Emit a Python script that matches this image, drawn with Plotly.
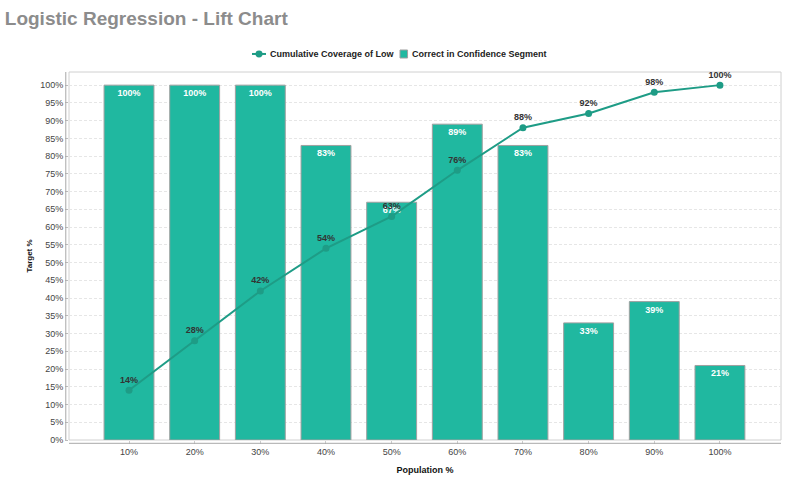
import plotly.graph_objects as go

categories = ["10%", "20%", "30%", "40%", "50%", "60%", "70%", "80%", "90%", "100%"]
correct_in_segment = [100, 100, 100, 83, 67, 89, 83, 33, 39, 21]
cumulative_coverage = [14, 28, 42, 54, 63, 76, 88, 92, 98, 100]
y_ticks = list(range(0, 101, 5))
y_tick_labels = [f"{v}%" for v in y_ticks]
series_names = ["Cumulative Coverage of Low", "Correct in Confidence Segment"]

bar_color = "#20B8A0"
line_color = "#1E9C86"
font_family = "Liberation Sans, Arial, sans-serif"

fig = go.Figure()

fig.add_trace(go.Bar(
    x=categories, y=correct_in_segment,
    name=series_names[1],
    marker=dict(color=bar_color, line=dict(color="#A0A0A0", width=1)),
    width=0.76,
    text=[f"{v}%" for v in correct_in_segment],
    textposition="inside",
    insidetextanchor="end",
    textangle=0,
    textfont=dict(family=font_family, size=9, color="white", weight="bold"),
    showlegend=False,
))

fig.add_trace(go.Scatter(
    x=categories, y=cumulative_coverage,
    name=series_names[0],
    mode="lines+markers+text",
    line=dict(color=line_color, width=2),
    marker=dict(color=line_color, size=7),
    text=[f"{v}%" for v in cumulative_coverage],
    textposition="top center",
    textfont=dict(family=font_family, size=9, color="#333333", weight="bold"),
    cliponaxis=False,
    showlegend=False,
))

# custom compact legend (paper coordinates)
leg_y = 1.049
legend_font = dict(family=font_family, size=9, color="#222222", weight="bold")
annotations = [
    dict(text=series_names[0], xref="paper", yref="paper", x=0.2795, y=leg_y,
         xanchor="left", yanchor="middle", showarrow=False, font=legend_font),
    dict(text=series_names[1], xref="paper", yref="paper", x=0.4795, y=leg_y,
         xanchor="left", yanchor="middle", showarrow=False, font=legend_font),
]
shapes = [
    dict(type="rect", xref="paper", yref="paper", x0=0, x1=1, y0=0, y1=1,
         line=dict(color="#D0D0D0", width=1), layer="below"),
    dict(type="line", xref="paper", yref="paper", x0=-0.0045, x1=-0.0045, y0=0, y1=1,
         line=dict(color="#A8A8A8", width=1)),
    dict(type="line", xref="paper", yref="paper", x0=0, x1=1, y0=-0.009, y1=-0.009,
         line=dict(color="#A8A8A8", width=1)),
    # legend symbols
    dict(type="line", xref="paper", yref="paper", x0=0.257, x1=0.2767, y0=leg_y, y1=leg_y,
         line=dict(color=line_color, width=2)),
    dict(type="circle", xref="paper", yref="paper",
         x0=0.2669 - 0.0049, x1=0.2669 + 0.0049, y0=leg_y - 0.0095, y1=leg_y + 0.0095,
         fillcolor=line_color, line=dict(color=line_color, width=0)),
    dict(type="rect", xref="paper", yref="paper", x0=0.4649, x1=0.4755, y0=1.038, y1=1.0598,
         fillcolor=bar_color, line=dict(color="#A0A0A0", width=1)),
]

fig.update_layout(
    width=800, height=488,
    margin=dict(l=69, r=19, t=72, b=48),
    paper_bgcolor="white",
    plot_bgcolor="white",
    font=dict(family=font_family, size=9, color="#444444"),
    title=dict(
        text="Logistic Regression - Lift Chart",
        x=0.006, xanchor="left", y=0.963, yanchor="middle",
        font=dict(family=font_family, size=19, color="#8C8C8C", weight="bold"),
    ),
    showlegend=False,
    uniformtext=dict(minsize=9, mode="show"),
    xaxis=dict(
        type="category",
        range=[-0.914, 9.93],
        showgrid=False,
        ticks="outside", ticklen=3, tickcolor="#CCCCCC",
        tickfont=dict(size=9, color="#444444"),
        title=dict(text="Population %", standoff=10,
                   font=dict(family=font_family, size=9, color="#111111", weight="bold")),
        showline=False,
        zeroline=False,
    ),
    yaxis=dict(
        range=[0, 103.7],
        tickvals=y_ticks, ticktext=y_tick_labels,
        showgrid=True, gridcolor="#E6E6E6", griddash="3px,2px", gridwidth=1,
        ticks="outside", ticklen=3, tickcolor="#BBBBBB",
        tickfont=dict(size=9, color="#444444"),
        title=dict(text="Target %", standoff=6,
                   font=dict(family=font_family, size=8, color="#111111", weight="bold")),
        showline=False,
        zeroline=False,
    ),
    annotations=annotations,
    shapes=shapes,
)

fig.write_html("out.html")
